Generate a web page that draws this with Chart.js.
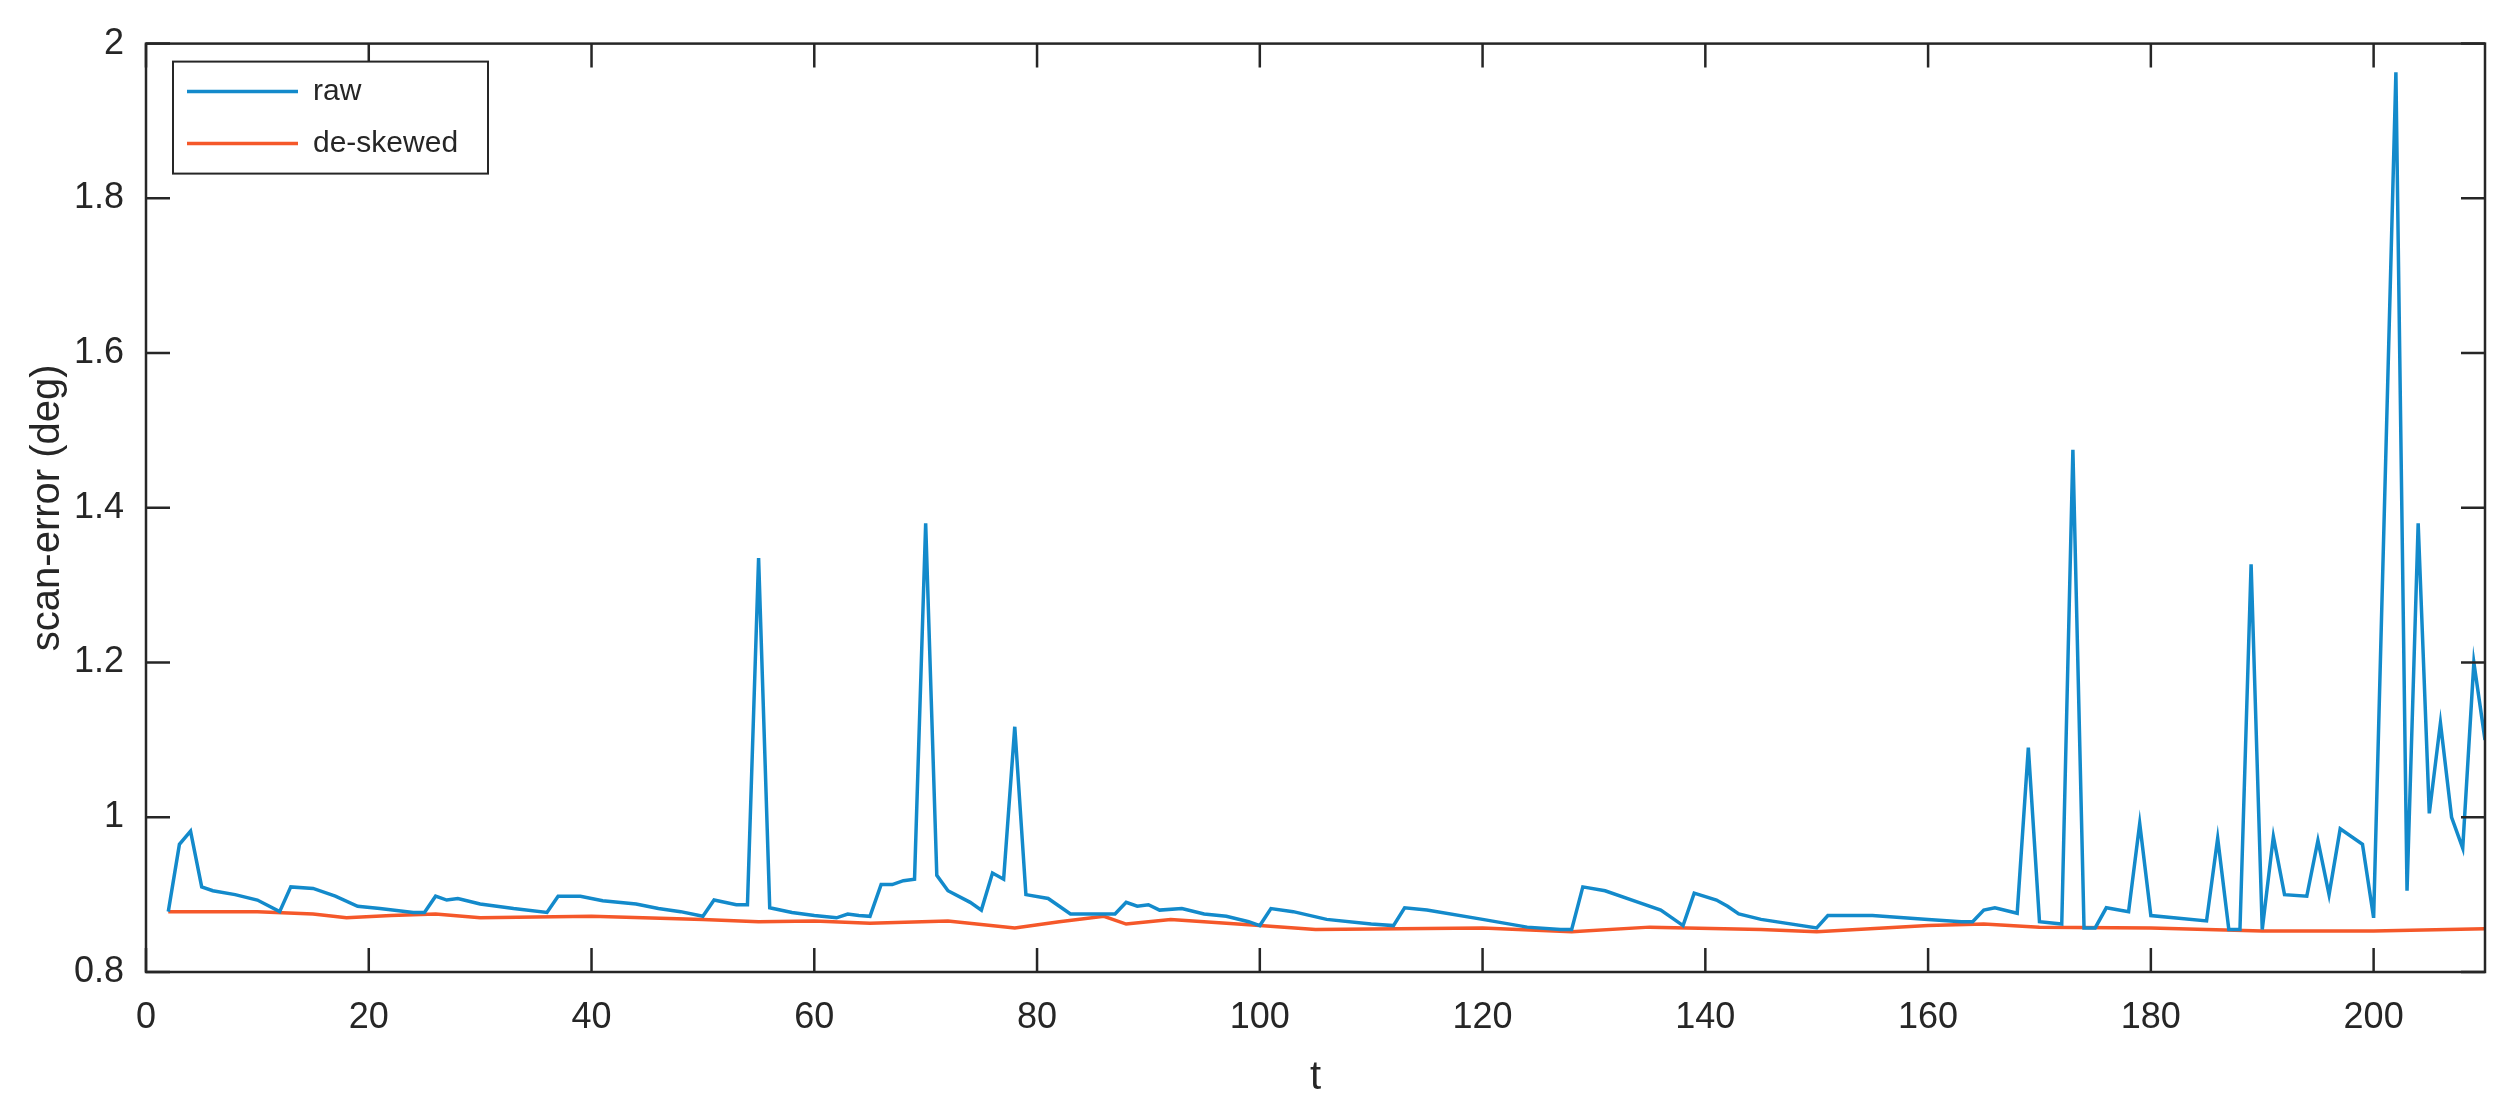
<!DOCTYPE html>
<html><head><meta charset="utf-8">
<script src="https://cdn.jsdelivr.net/npm/chart.js@4"></script>
<style>html,body{margin:0;padding:0;background:#fff}#w{width:2510px;height:1106px}</style>
</head><body><div id="w"><canvas id="c"></canvas></div>
<script>
const rawT = [2,3,4,5,6,8,10,12,13,15,17,19,21,24,25,26,27,28,30,33,36,37,39,41,44,46,48,50,51,53,54,55,56,58,60,62,63,64,65,66,67,68,69,70,71,72,74,75,76,77,78,79,81,83,85,87,88,89,90,91,93,95,97,99,100,101,103,106,110,112,113,115,120,124,127,128,129,131,134,136,138,139,141,142,143,145,150,151,155,160,163,164,165,166,168,169,170,172,173,174,175,176,178,179,180,185,186,187,188,189,190,191,192,194,195,196,197,199,200,202,203,204,205,206,207,208,209,210];
const rawV = [.878,.965,.982,.91,.905,.9,.893,.878,.91,.908,.898,.885,.882,.877,.877,.898,.893,.895,.888,.882,.877,.898,.898,.892,.888,.882,.878,.872,.893,.887,.887,1.335,.883,.877,.873,.87,.875,.873,.872,.913,.913,.918,.92,1.38,.925,.905,.89,.88,.928,.92,1.117,.9,.895,.875,.875,.875,.89,.885,.887,.88,.882,.875,.872,.865,.86,.882,.878,.868,.862,.86,.883,.88,.868,.858,.855,.855,.91,.905,.89,.88,.86,.902,.893,.885,.875,.868,.857,.873,.873,.868,.865,.865,.88,.883,.876,1.09,.865,.862,1.475,.857,.857,.883,.878,.992,.873,.866,.973,.855,.855,1.327,.855,.975,.9,.898,.97,.9,.985,.965,.87,1.963,.905,1.38,1.005,1.122,1.0,.96,1.2,1.1];
const deskT = [2,5,10,15,18,22,26,30,40,50,55,60,65,72,78,82,86,88,92,100,105,120,128,135,145,150,160,165,170,180,190,200,210];
const deskV = [.878,.878,.878,.875,.87,.873,.875,.87,.872,.868,.865,.866,.863,.866,.857,.865,.872,.862,.868,.86,.855,.857,.852,.858,.855,.852,.86,.862,.858,.857,.853,.853,.856];
const seriesNames = ['raw','de-skewed'];
const xTicks = [0,20,40,60,80,100,120,140,160,180,200];
const yTicks = [0.8,1,1.2,1.4,1.6,1.8,2];

const BLUE='#138acb', ORANGE='#f5582a', INK='#262626';
const FONT='"Liberation Sans", Arial, sans-serif';
const pts=(t,v)=>t.map((x,i)=>({x,y:v[i]}));

const boxPlugin={id:'box',afterDraw(ch){
  const {ctx,chartArea:a,scales:{x,y}}=ch;
  ctx.save();ctx.strokeStyle=INK;ctx.lineWidth=2.5;
  ctx.strokeRect(a.left,a.top,a.right-a.left,a.bottom-a.top);
  ctx.beginPath();
  xTicks.forEach(v=>{const p=x.getPixelForValue(v);ctx.moveTo(p,a.bottom);ctx.lineTo(p,a.bottom-24);ctx.moveTo(p,a.top);ctx.lineTo(p,a.top+24);});
  yTicks.forEach(v=>{const p=y.getPixelForValue(v);ctx.moveTo(a.left,p);ctx.lineTo(a.left+24,p);ctx.moveTo(a.right,p);ctx.lineTo(a.right-24,p);});
  ctx.stroke();
  const bx=a.left+27,by=a.top+18,bw=315,bh=112;
  ctx.fillStyle='#fff';ctx.fillRect(bx,by,bw,bh);
  ctx.lineWidth=2;ctx.strokeStyle=INK;ctx.strokeRect(bx,by,bw,bh);
  ctx.font='30px '+FONT;ctx.textBaseline='middle';
  [[BLUE,seriesNames[0]],[ORANGE,seriesNames[1]]].forEach(([c,n],i)=>{
    const yy=by+30+i*52;ctx.strokeStyle=c;ctx.lineWidth=3.5;ctx.beginPath();ctx.moveTo(bx+14,yy);ctx.lineTo(bx+125,yy);ctx.stroke();
    ctx.fillStyle=INK;ctx.fillText(n,bx+140,yy);});
  ctx.restore();
}};

new Chart(document.getElementById('c'),{
  type:'line',
  data:{datasets:[
    {label:seriesNames[0],data:pts(rawT,rawV),borderColor:BLUE,borderWidth:3.5,pointRadius:0,tension:0},
    {label:seriesNames[1],data:pts(deskT,deskV),borderColor:ORANGE,borderWidth:3.5,pointRadius:0,tension:0}
  ]},
  options:{responsive:true,maintainAspectRatio:false,animation:false,devicePixelRatio:1,
    layout:{padding:{top:30,right:25,left:20,bottom:0}},
    plugins:{legend:{display:false},tooltip:{enabled:false}},
    scales:{
      x:{type:'linear',min:0,max:210,afterBuildTicks:s=>{s.ticks=xTicks.map(v=>({value:v}));},
        grid:{display:false,drawTicks:false},border:{display:false},
        ticks:{color:INK,font:{size:36,family:FONT},padding:24,maxRotation:0},
        title:{display:true,text:'t',color:INK,font:{size:40,family:FONT},padding:{top:8}},
        afterFit:s=>{s.height=134;}},
      y:{type:'linear',min:0.8,max:2,afterBuildTicks:s=>{s.ticks=yTicks.map(v=>({value:v}));},
        grid:{display:false,drawTicks:false},border:{display:false},
        ticks:{color:INK,font:{size:36,family:FONT},padding:22,callback:v=>String(v)},
        title:{display:true,text:'scan-error (deg)',color:INK,font:{size:40,family:FONT},padding:{bottom:4}},
        afterFit:s=>{s.width=126;}}
    }},
  plugins:[boxPlugin]
});
</script></body></html>
